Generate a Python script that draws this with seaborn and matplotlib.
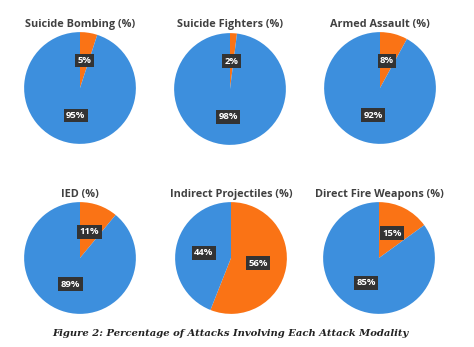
import matplotlib
matplotlib.use("Agg")
import matplotlib.pyplot as plt
import seaborn as sns

titles = ["Suicide Bombing (%)", "Suicide Fighters (%)", "Armed Assault (%)",
          "IED (%)", "Indirect Projectiles (%)", "Direct Fire Weapons (%)"]
yes_pct = [5, 2, 8, 11, 56, 15]
no_pct = [95, 98, 92, 89, 44, 85]
caption = "Figure 2: Percentage of Attacks Involving Each Attack Modality"

sns.set_theme(style="white")
plt.rcParams['font.family'] = ['Open Sans', 'DejaVu Sans']
colors = ["#FA7315", "#3D8FDD"]

W, H = 474, 347
fig = plt.figure(figsize=(W / 100, H / 100), dpi=100)
fig.patch.set_facecolor("white")

centers = [(80, 88), (230, 89), (380, 88), (80, 258), (231, 258), (379, 258)]
title_y = [25, 25, 25, 194, 194, 194]
R = 57

for i in range(6):
    cx, cy = centers[i]
    ax = fig.add_axes([(cx - R) / W, 1 - (cy + R) / H, 2 * R / W, 2 * R / H])
    wedges, texts, autotexts = ax.pie(
        [yes_pct[i], no_pct[i]], colors=colors, startangle=90, counterclock=False,
        autopct=lambda p: f"{p:.0f}%", pctdistance=0.5, radius=1.0,
        wedgeprops=dict(linewidth=0),
        textprops=dict(color="white", fontsize=6.8, fontweight="bold"))
    for t in autotexts:
        t.set_bbox(dict(boxstyle="square,pad=0.25", facecolor="#333333", edgecolor="none"))
    ax.set_xlim(-1.02, 1.02)
    ax.set_ylim(-1.02, 1.02)
    ax.set_aspect("equal")
    ax.axis("off")
    fig.text(cx / W, 1 - title_y[i] / H, titles[i], ha="center", va="center",
             fontsize=7.8, fontweight="bold", color="#404040")

fig.text(230 / W, 1 - 333 / H, caption, ha="center", va="center",
         fontsize=7.2, fontweight="bold", fontstyle="italic",
         family=["DejaVu Serif"], color="#222222")

fig.savefig("out.png", dpi=100, facecolor="white")
